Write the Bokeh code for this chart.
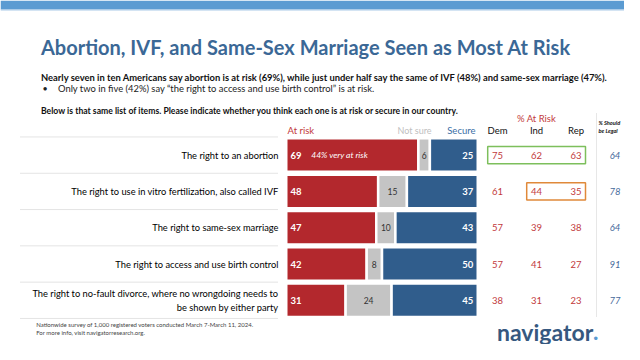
from bokeh.plotting import figure
from bokeh.models import Range1d
from bokeh.core.properties import value
from bokeh.embed import file_html
from bokeh.resources import INLINE

# ---------------- data ----------------
items = [
    "The right to an abortion",
    "The right to use in vitro fertilization, also called IVF",
    "The right to same-sex marriage",
    "The right to access and use birth control",
    "The right to no-fault divorce, where no wrongdoing needs to\nbe shown by either party",
]
at_risk = [69, 48, 47, 42, 31]
not_sure = [6, 15, 10, 8, 24]
secure = [25, 37, 43, 50, 45]
very_at_risk = ["44% very at risk", "", "", "", ""]
dem = [75, 61, 57, 57, 38]
ind = [62, 44, 39, 41, 31]
rep = [63, 35, 38, 27, 23]
should_legal = [64, 78, 64, 91, 77]
party_labels = ["Dem", "Ind", "Rep"]
# highlight boxes: (row, first column, last column)
green_box = (0, 0, 2)
orange_box = (1, 1, 2)

FONT = value("Lato")
RED = "#b3282d"
GRAY = "#c4c4c4"
BLUE = "#305d8c"
TXT_RED = "#c23a3c"
TITLE_BLUE = "#3b6896"

W, H = 624, 344
X0, SX = 285.75, 1.915      # 0% position and px per percent
Y0, SY = 154.6, 36.3        # first row centre and px per row

p = figure(width=W, height=H, title=None,
           x_range=Range1d(0, W), y_range=Range1d(H, 0),
           output_backend="svg", toolbar_location=None, min_border=0,
           outline_line_color=None, x_axis_location=None, y_axis_location=None,
           background_fill_color="white", border_fill_color="white")
p.grid.visible = False
p.extra_x_ranges = {"pct": Range1d(start=(0 - X0) / SX, end=(W - X0) / SX)}
p.extra_y_ranges = {"row": Range1d(start=(H - Y0) / SY, end=(0 - Y0) / SY)}

rows = list(range(len(items)))

# top band
p.quad(left=[0], right=[W], top=[0], bottom=[9], fill_color="#5b9bd2", line_color=None)
p.quad(left=[0], right=[W], top=[9], bottom=[10], fill_color="#a9c9e8", line_color=None)

# titles
p.text(x=[40.5], y=[46.5], text=["Abortion, IVF, and Same-Sex Marriage Seen as Most At Risk"],
       text_font=FONT, text_font_style="bold", text_font_size="20px",
       text_color=TITLE_BLUE, text_baseline="middle", text_align="left")
p.text(x=[40.5], y=[77], text=["Nearly seven in ten Americans say abortion is at risk (69%), while just under half say the same of IVF (48%) and same-sex marriage (47%)."],
       text_font=FONT, text_font_style="bold", text_font_size="9.4px",
       text_color="#111111", text_baseline="middle", text_align="left")
p.text(x=[42], y=[87.5], text=["\u2022"], text_font=FONT, text_font_size="9px",
       text_color="#222222", text_baseline="middle", text_align="left")
p.text(x=[57.5], y=[87.5], text=["Only two in five (42%) say \u201cthe right to access and use birth control\u201d is at risk."],
       text_font=FONT, text_font_size="9.4px",
       text_color="#222222", text_baseline="middle", text_align="left")
p.text(x=[40.5], y=[110], text=["Below is that same list of items. Please indicate whether you think each one is at risk or secure in our country."],
       text_font=FONT, text_font_style="bold", text_font_size="8.65px",
       text_color="#111111", text_baseline="middle", text_align="left")

# column headers
p.text(x=[287], y=[130], text=["At risk"], text_font=FONT, text_font_size="9.5px",
       text_color=TXT_RED, text_baseline="middle", text_align="left")
p.text(x=[414], y=[130], text=["Not sure"], text_font=FONT, text_font_size="9px",
       text_color="#c0c0c0", text_baseline="middle", text_align="center")
p.text(x=[475], y=[130], text=["Secure"], text_font=FONT, text_font_size="9.5px",
       text_color="#3a6ea5", text_baseline="middle", text_align="right")
col_x = [497, 536, 575.5]
p.text(x=col_x, y=[130] * 3, text=party_labels, text_font=FONT, text_font_size="9.5px",
       text_color="#111111", text_baseline="middle", text_align="center")
p.text(x=[536], y=[118], text=["% At Risk"], text_font=FONT, text_font_size="9.5px",
       text_color=TXT_RED, text_baseline="middle", text_align="center")
p.text(x=[598, 598], y=[122, 130], text=["% Should", "be Legal"], text_font=FONT,
       text_font_style="bold italic", text_font_size="5.6px",
       text_color="#111111", text_baseline="middle", text_align="left")

# separators
sep = [r - 0.5 for r in rows] + [rows[-1] + 0.5]
p.segment(x0=[20] * len(sep), x1=[278] * len(sep), y0=sep, y1=sep, y_range_name="row",
          line_color="#c8c8c8", line_width=1, line_dash="1 1")
p.segment(x0=[596], x1=[596], y0=[113], y1=[317], line_color="#cfcfcf",
          line_width=1, line_dash="1 1")

# row labels
p.text(x=[278] * len(items), y=rows, text=items, y_range_name="row",
       text_font=FONT, text_font_size="9.3px", text_color="#000000",
       text_baseline="middle", text_align="right", text_line_height=1.25)

# stacked bars
left_g = at_risk
right_g = [a + n for a, n in zip(at_risk, not_sure)]
right_b = [a + n + s for a, n, s in zip(at_risk, not_sure, secure)]
common = dict(y=rows, height=0.923, line_color="white", line_width=2.5,
              x_range_name="pct", y_range_name="row")
p.hbar(left=[0] * 5, right=at_risk, fill_color=RED, **common)
p.hbar(left=left_g, right=right_g, fill_color=GRAY, **common)
p.hbar(left=right_g, right=right_b, fill_color=BLUE, **common)

lbl = dict(y=rows, x_range_name="pct", y_range_name="row", text_font=FONT,
           text_baseline="middle")
p.text(x=[0] * 5, text=[str(v) for v in at_risk], x_offset=4.3, text_align="left",
       text_color="white", text_font_style="bold", text_font_size="9.5px", **lbl)
p.text(x=[0] * 5, text=very_at_risk, x_offset=25, text_align="left",
       text_color="white", text_font_style="italic", text_font_size="8.5px", **lbl)
p.text(x=[a + n / 2 for a, n in zip(at_risk, not_sure)], text=[str(v) for v in not_sure],
       text_align="center", text_color="#333333", text_font_size="8.5px", **lbl)
p.text(x=right_b, text=[str(v) for v in secure], x_offset=-4.5, text_align="right",
       text_color="white", text_font_style="bold", text_font_size="9.5px", **lbl)

# partisan columns
for cx, vals in zip(col_x, [dem, ind, rep]):
    p.text(x=[cx] * 5, y=rows, text=[str(v) for v in vals], y_range_name="row",
           text_font=FONT, text_font_size="9.5px", text_color=TXT_RED,
           text_baseline="middle", text_align="center")
p.text(x=[614.5] * 5, y=rows, text=[str(v) for v in should_legal], y_range_name="row",
       text_font=FONT, text_font_style="italic", text_font_size="9.5px",
       text_color="#46699a", text_baseline="middle", text_align="center")

# highlight boxes
for (r, c0, c1), col in [(green_box, "#7dbf5c"), (orange_box, "#e0893a")]:
    p.quad(left=[col_x[c0] - 9.8], right=[col_x[c1] + 9.5], top=[r - 0.235], bottom=[r + 0.235],
           y_range_name="row", fill_color=None, line_color=col, line_width=1.5)

# footer
p.text(x=[35.7, 35.7], y=[324.3, 332.3],
       text=["Nationwide survey of 1,000 registered voters conducted March 7-March 11, 2024.",
             "For more info, visit navigatorresearch.org."],
       text_font=FONT, text_font_size="6px", text_color="#444444",
       text_baseline="middle", text_align="left")

# logo
p.text(x=[496.5], y=[331], text=["navigator"], text_font=FONT, text_font_style="bold",
       text_font_size="23px", text_color="#36587f", text_baseline="middle", text_align="left")
p.text(x=[592.5], y=[331], text=["."], text_font=FONT, text_font_style="bold",
       text_font_size="23px", text_color="#5b9bd2", text_baseline="middle", text_align="left")

open("out.html", "w").write(file_html(p, INLINE))
